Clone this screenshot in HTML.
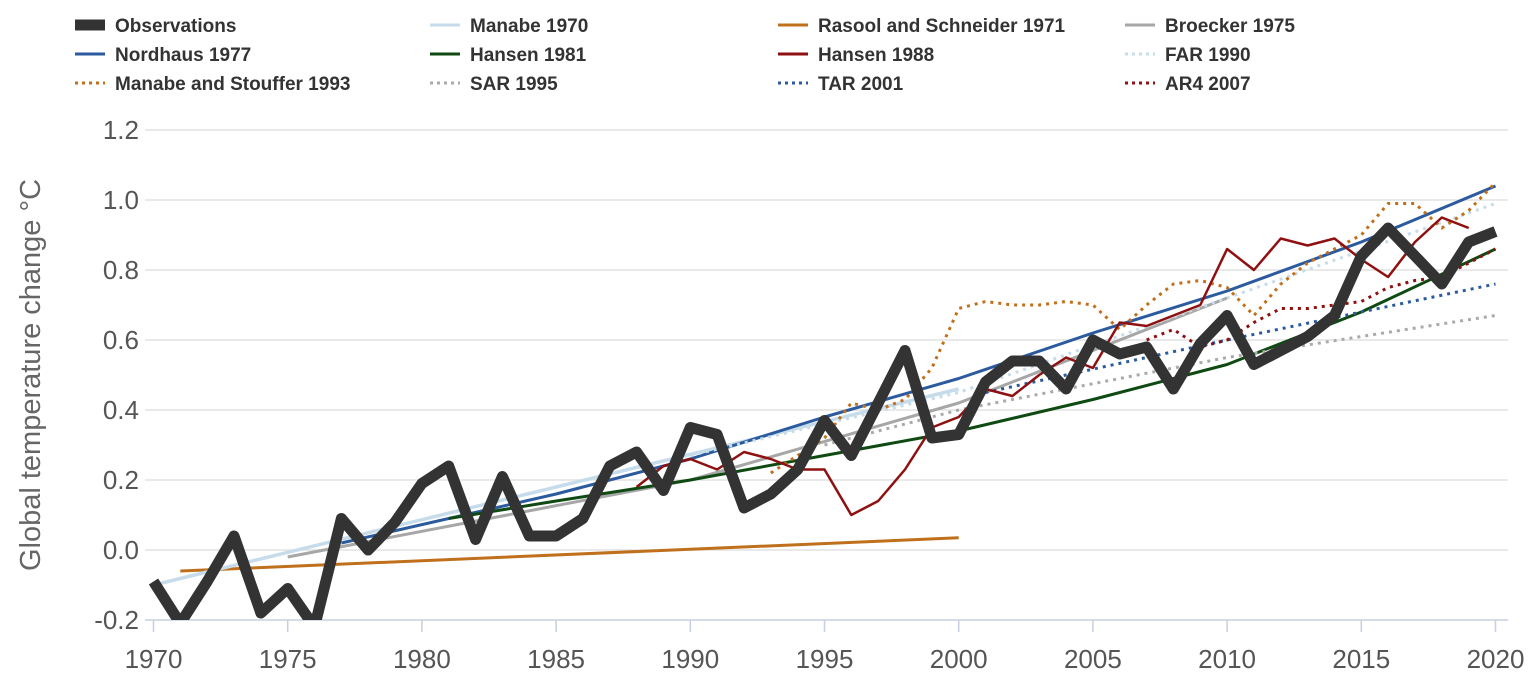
<!DOCTYPE html>
<html><head><meta charset="utf-8"><style>
html,body{margin:0;padding:0;background:#fff;}
svg{display:block;font-family:"Liberation Sans",sans-serif;}
</style></head><body>
<svg id="c" width="1536" height="686" viewBox="0 0 1536 686" xmlns="http://www.w3.org/2000/svg">
<g font-size="26" fill="#555" text-anchor="end" id="yt"></g>
<g font-size="26" fill="#555" text-anchor="middle" id="xt"></g>
<text transform="translate(40,375) rotate(-90)" text-anchor="middle" font-size="29" fill="#666">Global temperature change °C</text>
<g id="grid"></g>
<g id="lines" fill="none" stroke-linejoin="round"></g>
<g id="leg" font-size="19" font-weight="bold" fill="#333"></g>
</svg>
<script>
const X=y=>153.5+(y-1970)*26.84, Y=v=>550-350*v;
const ns="http://www.w3.org/2000/svg";
function el(p,t,a,txt){const e=document.createElementNS(ns,t);for(const k in a)e.setAttribute(k,a[k]);if(txt!=null)e.textContent=txt;document.getElementById(p).appendChild(e);return e;}
for(let i=0;i<=7;i++){const v=-0.2+i*0.2;const y=Y(v);
 el("grid","line",{x1:145,x2:1508,y1:y,y2:y,stroke:i==0?"#c8cfe0":"#e2e2e2","stroke-width":1.5});
 el("yt","text",{x:139,y:y+9},(v<0?"-0.2":v.toFixed(1)));}
for(let yr=1970;yr<=2020;yr+=5){el("xt","text",{x:X(yr),y:668},yr);el("grid","line",{x1:X(yr),x2:X(yr),y1:620,y2:632,stroke:"#c8cfe0","stroke-width":1.5});}
function pts(arr){return arr.map(p=>X(p[0]).toFixed(1)+","+Y(p[1]).toFixed(1)).join(" ");}
function series(start,vals){return vals.map((v,i)=>[start+i,v]);}
function line(d,col,w,dash){el("lines","polyline",{points:pts(d),stroke:col,"stroke-width":w,"stroke-dasharray":dash||"none"});}
el("lines","clipPath",{id:"cp"});
const cr=document.createElementNS(ns,"rect");document.getElementById("cp").appendChild(cr);
cr.setAttribute("x",0);cr.setAttribute("y",0);cr.setAttribute("width",1536);cr.setAttribute("height",620);
line([[1971,-0.06],[2000,0.035]],"#c0701c",3);
line([[1970,-0.1],[2000,0.46]],"#c7dcea",3.5);
line([[1975,-0.02],[1990,0.2],[2000,0.42],[2010,0.72]],"#a7a7a7",3);
line([[1977,0.02],[1985,0.16],[1990,0.26],[1995,0.38],[2000,0.49],[2005,0.62],[2010,0.74],[2015,0.88],[2020,1.04]],"#2b5a9e",3);
line([[1981,0.09],[1985,0.14],[1990,0.2],[1995,0.27],[2000,0.34],[2005,0.43],[2010,0.53],[2015,0.68],[2020,0.86]],"#0f4a12",3);
line([[1990,0.27],[2000,0.45],[2010,0.72],[2020,0.99]],"#c7dcea",3,"3,5");
line([[1995,0.3],[2000,0.4],[2010,0.55],[2020,0.67]],"#aaa",3,"3,5");
line([[2001,0.45],[2010,0.6],[2020,0.76]],"#2b5a9e",3,"3,5");
line(series(1993,[0.22,0.27,0.32,0.42,0.40,0.43,0.52,0.69,0.71,0.70,0.70,0.71,0.70,0.63,0.70,0.76,0.77,0.75,0.67,0.76,0.82,0.86,0.90,0.99,0.99,0.92,0.97,1.05]),"#c0701c",3,"3,5");
line(series(2007,[0.60,0.63,0.58,0.60,0.65,0.69,0.69,0.70,0.71,0.75,0.77,0.78,0.82,0.86]),"#8e1010",3,"3,5");
line(series(1988,[0.18,0.24,0.26,0.23,0.28,0.26,0.23,0.23,0.10,0.14,0.23,0.35,0.38,0.46,0.44,0.50,0.55,0.52,0.65,0.64,0.67,0.70,0.86,0.80,0.89,0.87,0.89,0.83,0.78,0.88,0.95,0.92]),"#8e1010",2.5);
el("lines","polyline",{points:pts(series(1970,[-0.09,-0.21,-0.09,0.04,-0.18,-0.11,-0.22,0.09,0.0,0.08,0.19,0.24,0.03,0.21,0.04,0.04,0.09,0.24,0.28,0.17,0.35,0.33,0.12,0.16,0.23,0.37,0.27,0.42,0.57,0.32,0.33,0.48,0.54,0.54,0.46,0.60,0.56,0.58,0.46,0.59,0.67,0.53,0.57,0.61,0.67,0.84,0.92,0.84,0.76,0.88,0.91])),stroke:"#333","stroke-width":11,"clip-path":"url(#cp)"});
const L=[
["Observations","#333",0,11],["Manabe 1970","#c7dcea",0,3],["Rasool and Schneider 1971","#c0701c",0,3],["Broecker 1975","#a7a7a7",0,3],
["Nordhaus 1977","#2b5a9e",0,3],["Hansen 1981","#0f4a12",0,3],["Hansen 1988","#8e1010",0,3],["FAR 1990","#c7dcea",1,3],
["Manabe and Stouffer 1993","#c0701c",1,3],["SAR 1995","#aaa",1,3],["TAR 2001","#2b5a9e",1,3],["AR4 2007","#8e1010",1,3]];
const cx=[75,430,778,1125],ry=[25,54,83];
L.forEach((l,i)=>{const c=i%4,r=Math.floor(i/4),x=cx[c],y=ry[r];
 el("leg","line",{x1:x,x2:x+30,y1:y,y2:y,stroke:l[1],"stroke-width":l[3],"stroke-dasharray":l[2]?"3,4":"none"});
 el("leg","text",{x:x+40,y:y+7},l[0]);});
</script>
</body></html>
